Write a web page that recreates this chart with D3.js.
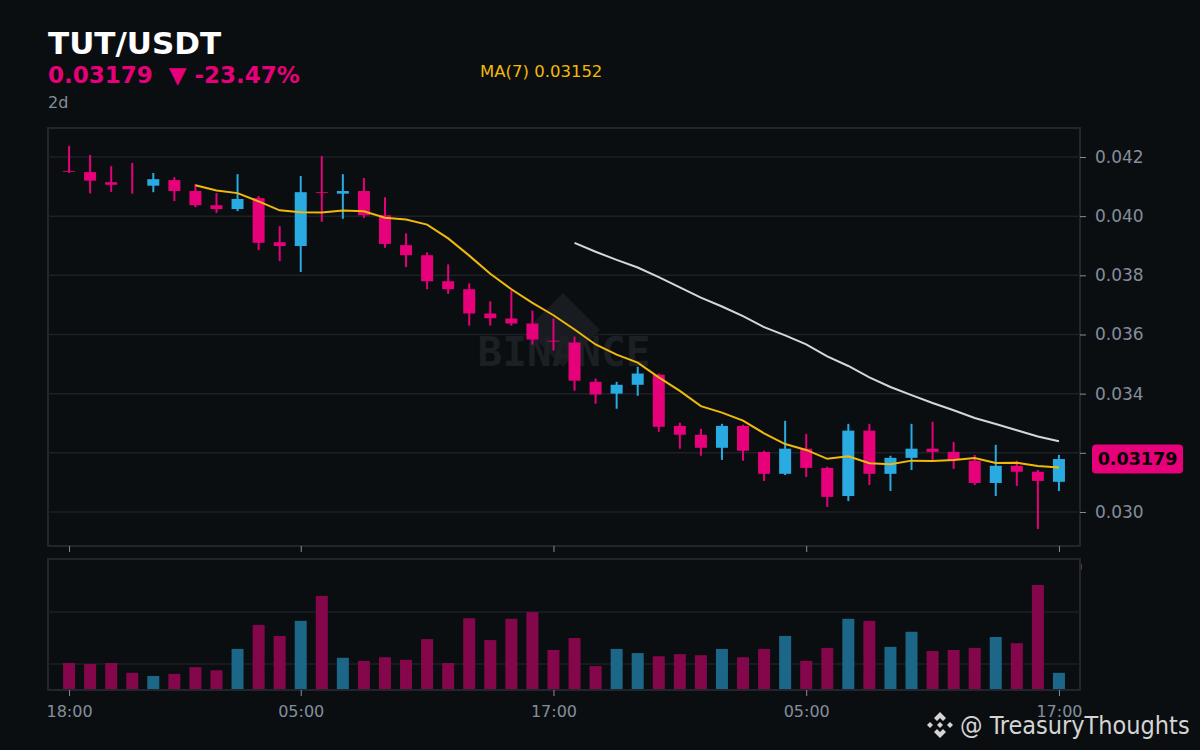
<!DOCTYPE html>
<html><head><meta charset="utf-8">
<script src="https://cdn.jsdelivr.net/npm/d3@7"></script>
<style>html,body{margin:0;padding:0;background:#0b0e11;} svg{display:block;}</style>
</head><body>
<svg id="chart" width="1200" height="750"></svg>
<script>
// ---- data (hourly candles, TUT/USDT) ----
const hours = ["18:00","19:00","20:00","21:00","22:00","23:00","00:00","01:00","02:00","03:00","04:00","05:00",
               "06:00","07:00","08:00","09:00","10:00","11:00","12:00","13:00","14:00","15:00","16:00","17:00",
               "18:00","19:00","20:00","21:00","22:00","23:00","00:00","01:00","02:00","03:00","04:00","05:00",
               "06:00","07:00","08:00","09:00","10:00","11:00","12:00","13:00","14:00","15:00","16:00","17:00"];
const opens  = [0.04153,0.04149,0.04115,0.04110,0.04103,0.04122,0.04085,0.04037,0.04024,0.04061,0.03912,0.03899,
                0.04081,0.04076,0.04085,0.04003,0.03902,0.03868,0.03780,0.03753,0.03671,0.03654,0.03637,0.03579,
                0.03573,0.03440,0.03400,0.03430,0.03464,0.03291,0.03261,0.03217,0.03291,0.03203,0.03129,0.03214,
                0.03149,0.03054,0.03275,0.03129,0.03183,0.03214,0.03203,0.03173,0.03098,0.03156,0.03136,0.03102];
const highs  = [0.04237,0.04207,0.04169,0.04180,0.04146,0.04132,0.04108,0.04078,0.04142,0.04068,0.03966,0.04136,
                0.04203,0.04142,0.04129,0.04064,0.03942,0.03878,0.03837,0.03773,0.03712,0.03749,0.03681,0.03654,
                0.03593,0.03451,0.03440,0.03491,0.03468,0.03302,0.03281,0.03298,0.03295,0.03207,0.03308,0.03264,
                0.03153,0.03298,0.03298,0.03190,0.03298,0.03305,0.03237,0.03193,0.03227,0.03173,0.03142,0.03193];
const lows   = [0.04146,0.04077,0.04082,0.04076,0.04081,0.04051,0.04030,0.04011,0.04017,0.03885,0.03848,0.03811,
                0.03981,0.03991,0.03994,0.03893,0.03828,0.03753,0.03737,0.03630,0.03630,0.03630,0.03566,0.03546,
                0.03410,0.03366,0.03349,0.03393,0.03271,0.03214,0.03190,0.03176,0.03173,0.03105,0.03125,0.03118,
                0.03017,0.03037,0.03091,0.03071,0.03142,0.03173,0.03146,0.03091,0.03054,0.03088,0.02942,0.03071];
const closes = [0.04150,0.04120,0.04106,0.04110,0.04125,0.04085,0.04037,0.04024,0.04058,0.03910,0.03899,0.04081,
                0.04078,0.04085,0.04003,0.03906,0.03868,0.03780,0.03753,0.03671,0.03655,0.03637,0.03583,0.03576,
                0.03444,0.03397,0.03430,0.03468,0.03288,0.03261,0.03217,0.03291,0.03207,0.03129,0.03214,0.03149,
                0.03051,0.03275,0.03129,0.03183,0.03214,0.03203,0.03176,0.03098,0.03156,0.03136,0.03105,0.03179];
// volume, millions of TUT
const volumes = [1.02,1.00,1.02,0.83,0.77,0.81,0.94,0.88,1.29,1.75,1.54,1.83,
                 2.31,1.12,1.06,1.13,1.08,1.48,1.02,1.88,1.46,1.87,2.00,1.27,
                 1.50,0.96,1.29,1.21,1.15,1.19,1.17,1.29,1.13,1.29,1.54,1.06,
                 1.31,1.87,1.83,1.33,1.62,1.25,1.27,1.31,1.52,1.40,2.52,0.83];
const priceTicks = [0.030,0.032,0.034,0.036,0.038,0.040,0.042];
const volTicks = [1,2];
const timeTickIdx = [0,11,23,35,47];
const timeTickLabels = ["18:00","05:00","17:00","05:00","17:00"];

const pair = "TUT/USDT";
const changeText = "0.03179  \u25BC -23.47%";
const periodText = "2d";
const maLabel = "MA(7) 0.03152";
const tagText = "0.03179";
const tagValue = 0.03179;

// ---- style ----
const BG = "#0b0e11", BORDER = "#22262c", GRID = "#1d2126", TXT = "#848e9c";
const UP = "#29abe2", DOWN = "#e6007a", VUP = "#1c6687", VDOWN = "#84074b";
const MA7C = "#f0b90b", MA25C = "#d6d6d6";

const svg = d3.select("#chart");
svg.append("rect").attr("width",1200).attr("height",750).attr("fill",BG);

const L = 48, R = 1080, T = 128, B = 546, VT = 559, VB = 690;
const data = opens.map((o,i)=>({i, t:hours[i], o, h:highs[i], l:lows[i], c:closes[i], v:volumes[i], up: closes[i] > o}));

const x = d3.scaleLinear().domain([-1, data.length]).range([L, R]);
const y = d3.scaleLinear().domain([0.02885, 0.04298]).range([B, T]);
const yv = d3.scaleLinear().domain([0.5, 3.02]).range([VB, VT]);

function movingAvg(arr, n){
  return arr.map((_,i)=> i < n-1 ? null : d3.mean(arr.slice(i-n+1, i+1)));
}
const ma7 = movingAvg(closes, 7);
const ma25 = movingAvg(closes, 25);

// ---- header text ----
svg.append("text").attr("x",48).attr("y",54).attr("fill","#ffffff")
  .style("font","bold 31px 'DejaVu Sans'").text(pair);
svg.append("text").attr("x",48).attr("y",83).attr("fill",DOWN)
  .attr("xml:space","preserve").style("white-space","pre")
  .style("font","bold 23px 'DejaVu Sans'").text(changeText);
svg.append("text").attr("x",48).attr("y",108).attr("fill",TXT)
  .style("font","16px 'DejaVu Sans'").text(periodText);
svg.append("text").attr("x",480).attr("y",77).attr("fill",MA7C)
  .style("font","16.5px 'DejaVu Sans'").text(maLabel);

// ---- main panel ----
const main = svg.append("g");
main.append("rect").attr("x",L).attr("y",T).attr("width",R-L).attr("height",B-T)
  .attr("fill",BG).attr("stroke",BORDER).attr("stroke-width",2);
main.append("g").selectAll("line").data(priceTicks).join("line")
  .attr("x1",L).attr("x2",R).attr("y1",d=>y(d)).attr("y2",d=>y(d))
  .attr("stroke",GRID).attr("stroke-width",1.5);

// watermark
const wm = main.append("g");
const cx = 563, cy = 330, hd = 37;
wm.append("path").attr("d",`M${cx},${cy-hd}L${cx+hd},${cy}L${cx},${cy+hd}L${cx-hd},${cy}Z`).attr("fill","#181b1f");
wm.append("text").attr("x",564).attr("y",366).attr("text-anchor","middle").attr("fill","#1c1f23")
  .style("font","bold 41px 'DejaVu Sans Mono'").text("BINANCE");

// y axis
const yAxis = d3.axisRight(y).tickValues(priceTicks).tickSize(6).tickPadding(9).tickFormat(d3.format(".3f"));
const ga = svg.append("g").attr("transform",`translate(${R},0)`).call(yAxis);
ga.select(".domain").remove();
ga.selectAll("line").attr("stroke",TXT);
ga.selectAll("text").attr("fill",TXT).style("font","17px 'DejaVu Sans'");

// main x axis (labels mostly hidden under volume panel)
const xAxis = d3.axisBottom(x).tickValues(timeTickIdx).tickSize(6).tickPadding(10)
  .tickFormat((d,k)=>timeTickLabels[k]);
const gx = svg.append("g").attr("transform",`translate(0,${B})`).call(xAxis);
gx.select(".domain").remove();
gx.selectAll("line").attr("stroke",TXT);
gx.selectAll("text").attr("fill",TXT).style("font","16px 'DejaVu Sans'");

// candles
const bw = 12;
const cg = svg.append("g");
cg.selectAll("line.wick").data(data).join("line").attr("class","wick")
  .attr("x1",d=>x(d.i)).attr("x2",d=>x(d.i)).attr("y1",d=>y(d.h)).attr("y2",d=>y(d.l))
  .attr("stroke",d=>d.up?UP:DOWN).attr("stroke-width",2);
cg.selectAll("rect.body").data(data).join("rect").attr("class","body")
  .attr("x",d=>x(d.i)-bw/2).attr("width",bw)
  .attr("y",d=>y(Math.max(d.o,d.c))).attr("height",d=>Math.abs(y(d.o)-y(d.c)))
  .attr("fill",d=>d.up?UP:DOWN);

// MA lines
const line = d3.line().defined(d=>d!=null).x((d,i)=>x(i)).y(d=>y(d));
svg.append("path").datum(ma25).attr("d",line).attr("fill","none").attr("stroke",MA25C).attr("stroke-width",2);
svg.append("path").datum(ma7).attr("d",line).attr("fill","none").attr("stroke",MA7C).attr("stroke-width",2);

// price tag
svg.append("rect").attr("x",1092).attr("y",y(tagValue)-14.5).attr("width",91).attr("height",29).attr("rx",4).attr("fill",DOWN);
svg.append("text").attr("x",1137.5).attr("y",y(tagValue)).attr("dy","0.36em").attr("text-anchor","middle")
  .attr("fill","#000").style("font","bold 17.5px 'DejaVu Sans'").text(tagText);

// ---- volume panel ----
const vg = svg.append("g");
vg.append("rect").attr("x",L).attr("y",VT).attr("width",R-L).attr("height",VB-VT)
  .attr("fill",BG).attr("stroke",BORDER).attr("stroke-width",2);
vg.append("g").selectAll("line").data(volTicks).join("line")
  .attr("x1",L).attr("x2",R).attr("y1",d=>yv(d)).attr("y2",d=>yv(d))
  .attr("stroke",GRID).attr("stroke-width",1.5);
vg.selectAll("rect.vol").data(data).join("rect").attr("class","vol")
  .attr("x",d=>x(d.i)-bw/2).attr("width",bw)
  .attr("y",d=>yv(d.v)).attr("height",d=>VB-1-yv(d.v))
  .attr("fill",d=>d.up?VUP:VDOWN);

const gvx = svg.append("g").attr("transform",`translate(0,${VB})`).call(xAxis);
gvx.select(".domain").remove();
gvx.selectAll("line").attr("stroke",TXT);
gvx.selectAll("text").attr("fill",TXT).style("font","16px 'DejaVu Sans'");

// ---- bottom-right watermark ----
const lg = svg.append("g").attr("transform","translate(940,725)").attr("fill","#d4d4d4");
lg.append("path").attr("d","M0,-13L6,-7L3,-4L0,-7L-3,-4L-6,-7Z");
lg.append("path").attr("d","M0,13L6,7L3,4L0,7L-3,4L-6,7Z");
lg.append("path").attr("d","M-13,0L-10,-3L-7,0L-10,3Z");
lg.append("path").attr("d","M13,0L10,-3L7,0L10,3Z");
lg.append("path").attr("d","M0,-3L3,0L0,3L-3,0Z");
svg.append("text").attr("x",960).attr("y",734).attr("fill","#d4d4d4")
  .style("font","25px 'DejaVu Sans'").style("font-stretch","condensed")
  .attr("xml:space","preserve").style("white-space","pre").text("@ TreasuryThoughts");
</script>
</body></html>
